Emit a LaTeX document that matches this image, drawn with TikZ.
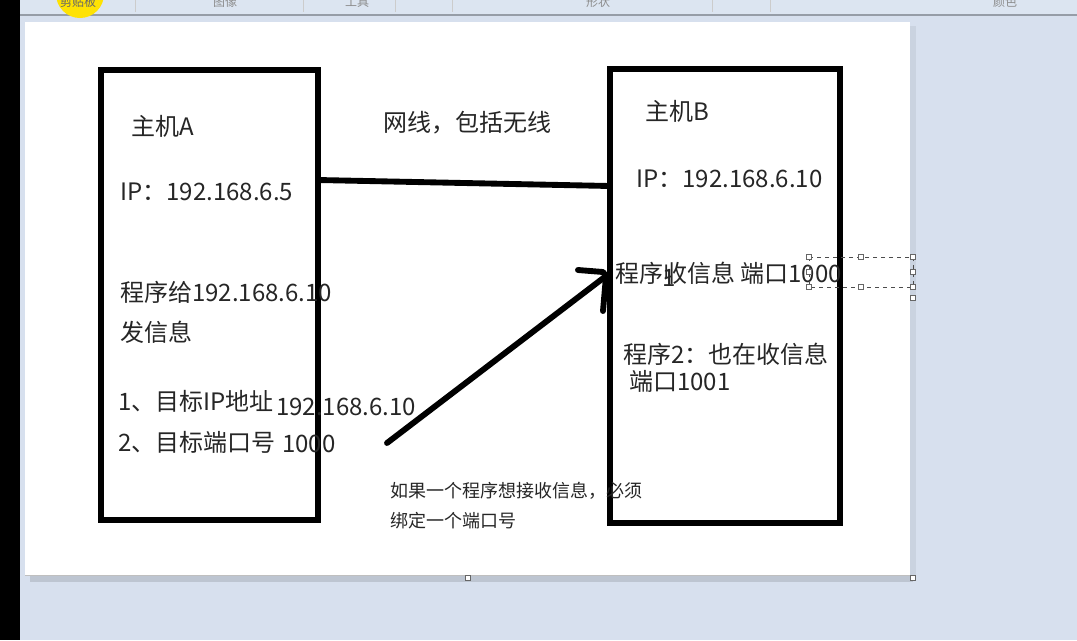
\documentclass[tikz,border=0pt]{standalone}
\usepackage{fontspec}
\setmainfont{Noto Sans CJK SC}
\begin{document}
\begin{tikzpicture}[x=0.75pt,y=-0.75pt,
  box/.style={draw=black,line width=3.8pt},
  pen/.style={line width=4.4pt,line cap=round,line join=round},
  txt/.style={anchor=west,inner sep=0pt,font=\fontsize{18pt}{20pt}\selectfont,text=black!85},
  small/.style={anchor=west,inner sep=0pt,font=\fontsize{13.5pt}{15pt}\selectfont,text=black!85},
  handle/.style={draw=black!60,fill=white,line width=0.5pt,minimum size=4pt,inner sep=0pt},
  tb/.style={inner sep=0pt,font=\fontsize{9pt}{10pt}\selectfont,text=black!45}]
\definecolor{bgblue}{HTML}{D7E0EE}
\definecolor{tbar}{HTML}{DCE5F1}
\useasboundingbox (0,0) rectangle (1077,640);
% window chrome
\fill[bgblue] (0,0) rectangle (1077,640);
\fill[tbar] (0,0) rectangle (1077,14);
\fill[black!30!bgblue] (0,14) rectangle (1077,16);
\foreach \xx in {135,303,395,452,712,770} \draw[black!20] (\xx,0) -- (\xx,12);
\node[tb] (t1) at (225,2) {图像};
\node[tb] (t2) at (357,2) {工具};
\node[tb] (t3) at (598,2) {形状};
\node[tb] (t4) at (1005,2) {颜色};
\fill[yellow!85!orange] (80,-6) circle (24);
\node[tb,text=black!60] (t0) at (78,2) {剪贴板};
\fill[black] (0,0) rectangle (20,640);
% canvas
\fill[black!12!bgblue] (30,575) rectangle (913,582);
\fill[black!6!bgblue] (910,26) rectangle (916,580);
\fill[white] (25,22) rectangle (910,575);
\draw[black!25,line width=0.5pt] (25,575) -- (910,575);
% boxes
\draw[box] (101,70) rectangle (318,520);
\draw[box] (610,69) rectangle (840,523);
\coordinate (a1) at (318,180);
\coordinate (b1) at (610,186);
\draw[pen] (a1) -- (b1);
% texts
\node[txt] (hA) at (131,126) {主机A};
\node[txt] (ipA) at (120,192) {IP：192.168.6.5};
\node[txt] (wire) at (383,123) {网线，包括无线};
\node[txt] (hB) at (645,111) {主机B};
\node[txt] (ipB) at (636,179) {IP：192.168.6.10};
\node[txt] (p1) at (120,292) {程序给192.168.6.10};
\node[txt] (p2) at (120,332) {发信息};
\node[txt] (p3) at (118,401) {1、目标IP地址};
\node[txt] (p3v) at (276,407) {192.168.6.10};
\node[txt] (p4) at (118,442) {2、目标端口号};
\node[txt] (p4v) at (282,444) {1000};
\node[txt] (r1) at (615,273) {程序收信息 端口1000};
\node[txt] (cur) at (662,278) {1};
\node[txt] (r2) at (623,354) {程序2：也在收信息};
\node[txt] (r3) at (629,381) {端口1001};
\node[small] (n1) at (390,491) {如果一个程序想接收信息，必须};
\node[small] (n2) at (390,521) {绑定一个端口号};
% hand-drawn arrow
\coordinate (s) at (387,443);
\coordinate (e) at (606,276);
\coordinate (h1) at (578,270);
\coordinate (h2) at (603,311);
\draw[pen] (s) -- (e);
\draw[pen] (h1) -- (603,272) -- (e) -- (h2);
% selection box
\draw[black!70,dashed,line width=0.6pt] (809,257) rectangle (913,287);
\foreach \hx/\hy in {809/257,861/257,913/257,809/287,861/287,913/287,913/272,809/272}
  \node[handle] at (\hx,\hy) {};
% canvas handles
\foreach \hx/\hy in {913/298,468/578,913/578}
  \node[handle] at (\hx,\hy) {};
\end{tikzpicture}
\end{document}
